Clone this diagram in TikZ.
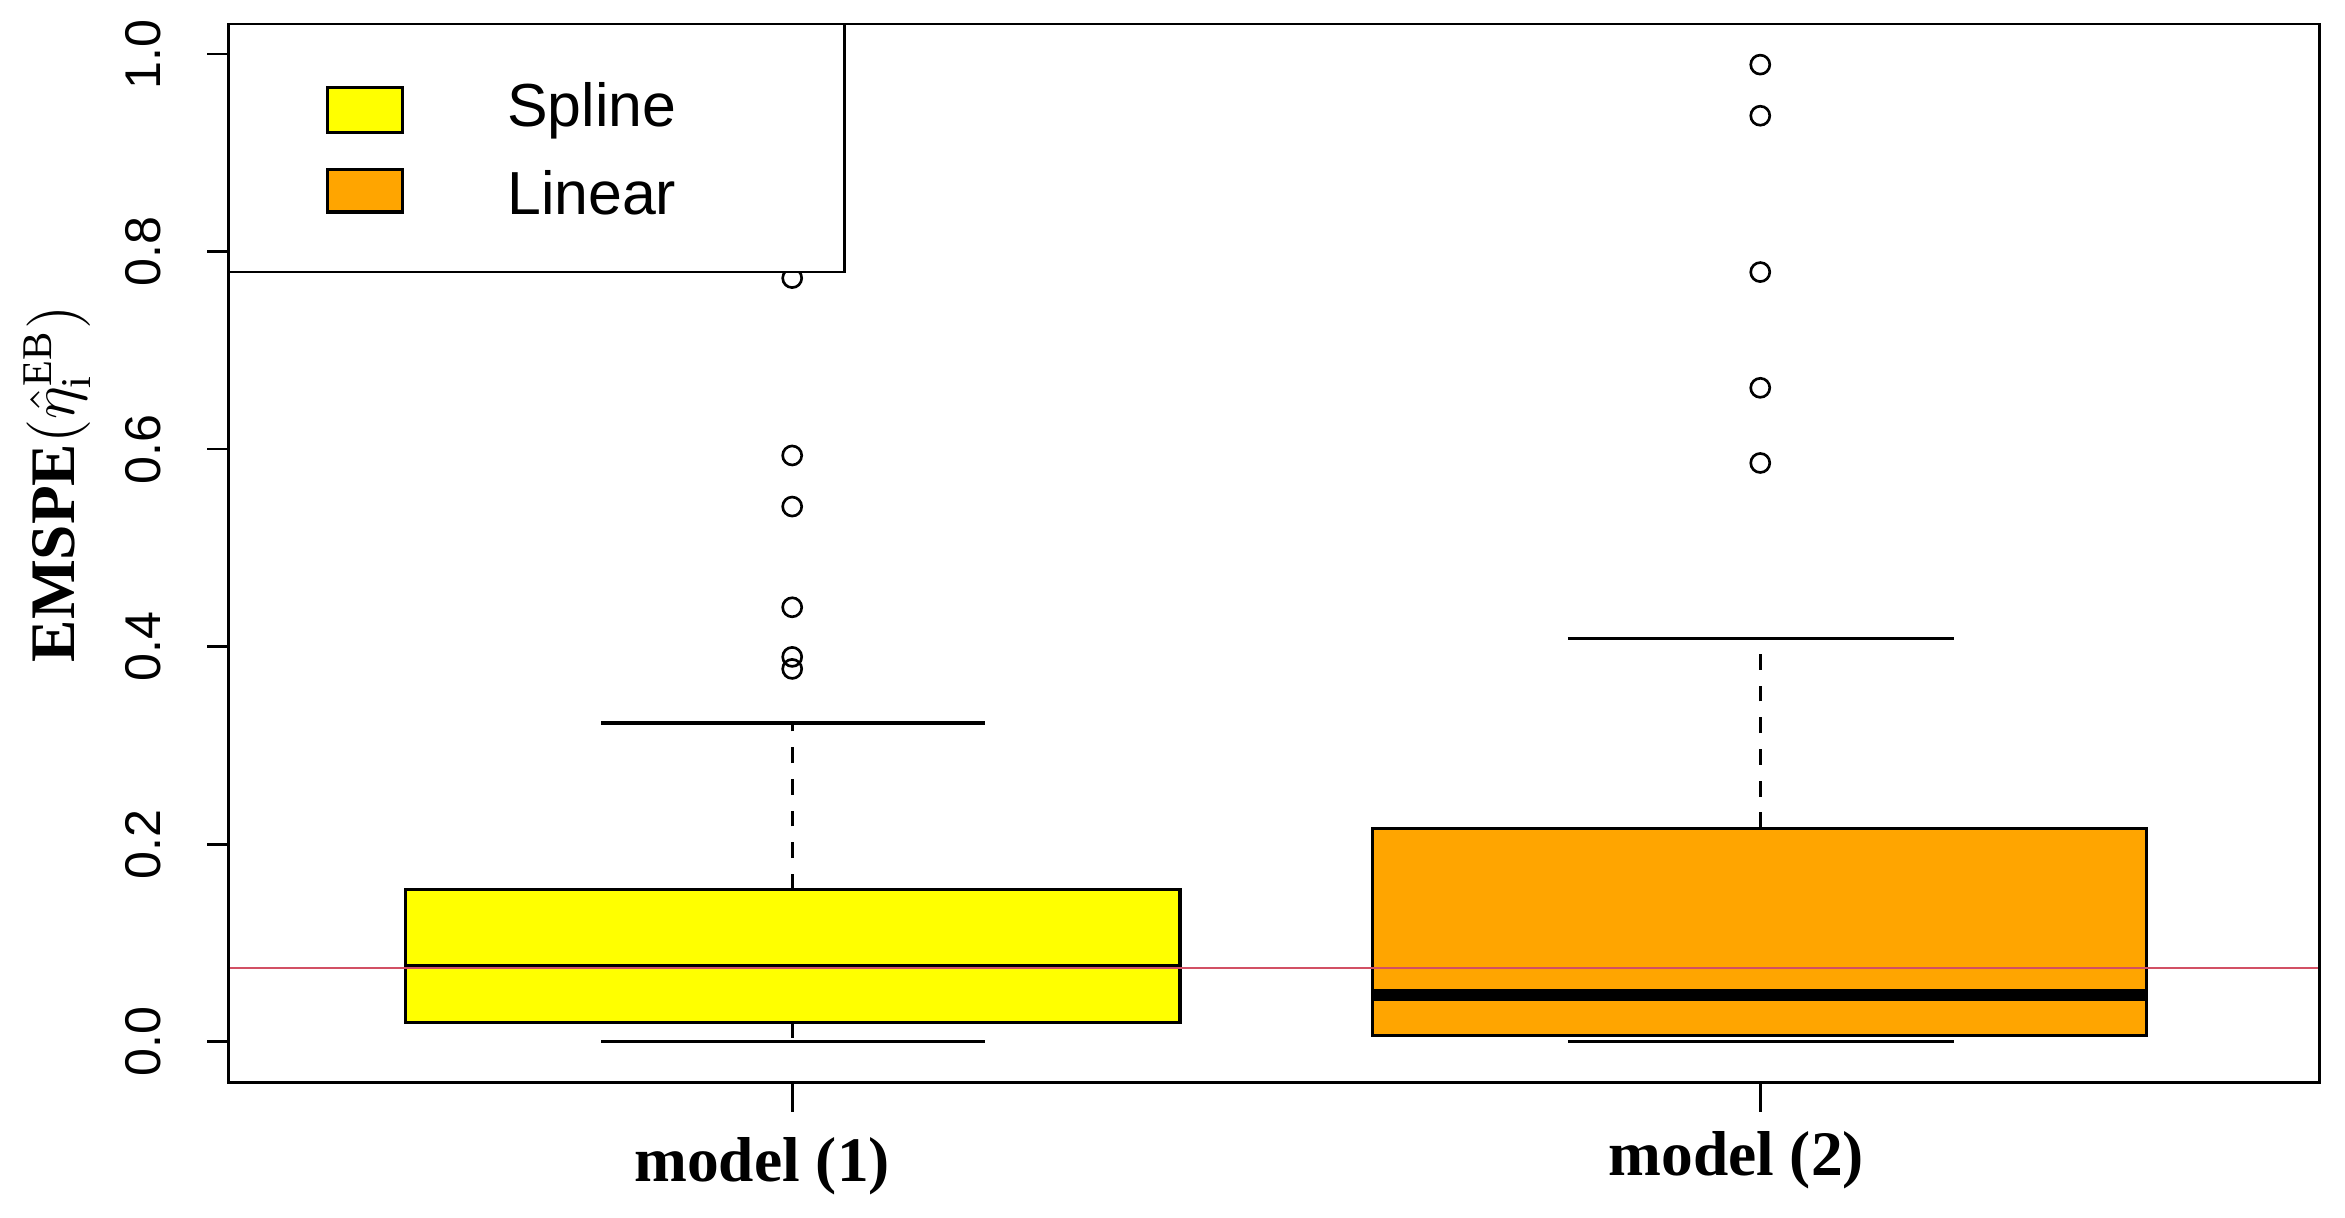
\documentclass[tikz,border=0pt]{standalone}
\usepackage{fontspec}
\setsansfont{Liberation Sans}
\setmainfont{Liberation Serif}
\begin{document}
\begin{tikzpicture}[x=0.01cm,y=-0.01cm,
  ax/.style={line width=0.5pt},
  tl/.style={font=\sffamily\fontsize{9.5}{10}\selectfont,rotate=90},
  outl/.style={circle,draw,minimum size=3.6pt,inner sep=0pt,line width=0.5pt},
  whisk/.style={line width=0.6pt}]
\useasboundingbox (0,0) rectangle (1560,810);
\definecolor{ylw}{RGB}{255,255,0}
\definecolor{org}{RGB}{255,165,0}
\definecolor{rl}{RGB}{210,80,100}
% boxes
\draw[fill=ylw,line width=0.6pt] (270,592) rectangle (785,680);
\draw[line width=0.9pt] (270,643) -- (785,643);
\draw[fill=org,line width=0.6pt] (913,551) rectangle (1428,689);
\draw[line width=2.4pt] (913,662) -- (1428,662);
% whiskers
\draw[whisk,dashed] (527,592) -- (527,481);
\draw[whisk] (400,481) -- (655,481);
\draw[whisk,dashed] (527,680) -- (527,693);
\draw[whisk] (400,693) -- (655,693);
\draw[whisk,dashed] (1171,551) -- (1171,425);
\draw[whisk] (1043,425) -- (1300,425);
\draw[whisk] (1043,693) -- (1300,693);
% outliers
\foreach \y [count=\i] in {185,303,337,404,437,445} \node[outl] (o1\i) at (527,\y) {};
\foreach \y [count=\i] in {43,77,181,258,308} \node[outl] (o2\i) at (1171,\y) {};
% red line
\draw[rl,line width=0.5pt] (152,644) -- (1543,644);
% frame
\draw[ax] (152,16) rectangle (1543,720);
% y ticks
\foreach \v/\l in {0/0.0,1/0.2,2/0.4,3/0.6,4/0.8,5/1.0}{
  \draw[ax] (152,693-131.4*\v) -- (138,693-131.4*\v);
  \node[tl] at (95,693-131.4*\v) {\l};}
% x ticks
\draw[ax] (527,720) -- (527,740);
\draw[ax] (1171,720) -- (1171,740);
\node[font=\bfseries\fontsize{12}{12}\selectfont] (m1) at (507,776) {model (1)};
\node[font=\bfseries\fontsize{12}{12}\selectfont] (m2) at (1155,772) {model (2)};
% y label
\node[rotate=90,font=\fontsize{12}{12}\selectfont] (yl) at (38,322) {$\mathbf{EMSPE}\bigl(\hat{\eta}_{\mathrm{i}}^{\mathrm{EB}}\bigr)$};
% legend
\draw[ax,fill=white] (152,16) rectangle (562,181);
\draw[fill=ylw,line width=0.6pt] (218,58) rectangle (268,88);
\draw[fill=org,line width=0.6pt] (218,113) rectangle (268,141);
\node[anchor=west,font=\sffamily\fontsize{11.5}{12}\selectfont] (ls) at (325,74) {Spline};
\node[anchor=west,font=\sffamily\fontsize{11.5}{12}\selectfont] (ll) at (325,128) {Linear};
\end{tikzpicture}
\end{document}
